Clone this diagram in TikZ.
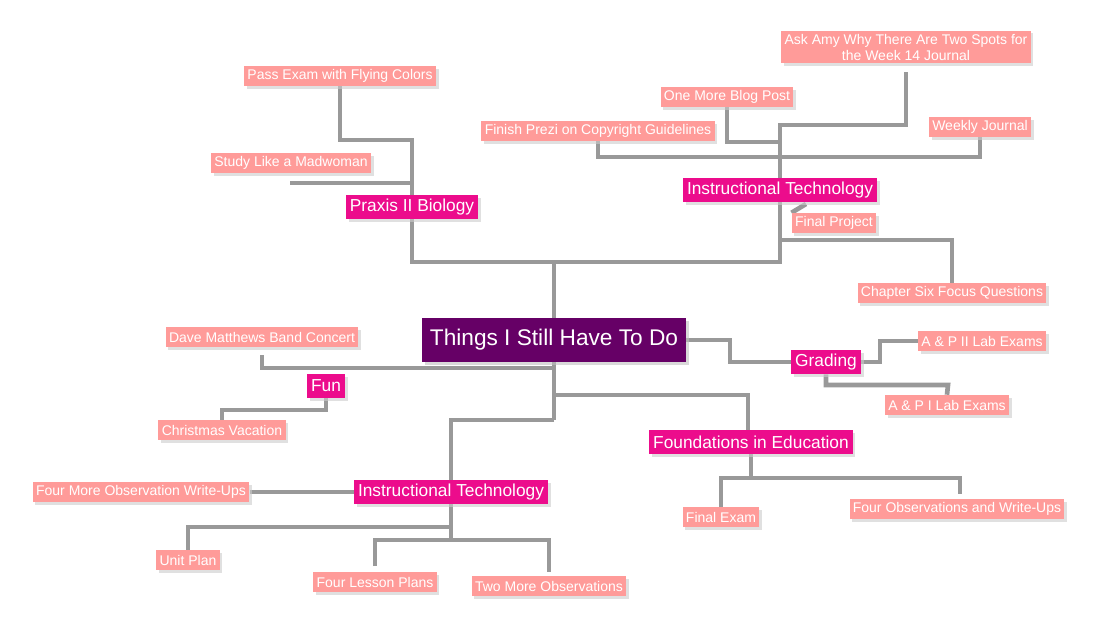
\documentclass[tikz,border=0pt]{standalone}
\usepackage{fontspec}
\setmainfont{Liberation Sans}
\usetikzlibrary{shadows,backgrounds}
\definecolor{leaf}{HTML}{FF9B99}
\definecolor{branch}{HTML}{EC0C8C}
\definecolor{root}{HTML}{660066}
\definecolor{wire}{HTML}{999999}
\tikzset{
 leafbox/.style={fill=leaf,text=white,font=\fontsize{10.5}{12}\selectfont,inner sep=2.5pt,minimum height=15pt,drop shadow={shadow xshift=2pt,shadow yshift=-2pt,fill=black!20,opacity=0.6}},
 branchbox/.style={fill=branch,text=white,font=\fontsize{13}{15}\selectfont,inner sep=3pt,minimum height=18pt,drop shadow={shadow xshift=2pt,shadow yshift=-2pt,fill=black!20,opacity=0.6}},
 rootbox/.style={fill=root,text=white,font=\fontsize{17}{20}\selectfont,inner sep=6pt,minimum height=33pt,drop shadow={shadow xshift=2pt,shadow yshift=-2pt,fill=black!25,opacity=0.6}},
 wirel/.style={draw=wire,line width=3.5pt}
}
\begin{document}
\begin{tikzpicture}[x=0.75pt,y=-0.75pt]
\useasboundingbox (0,0) rectangle (1101,626);
\coordinate (j1) at (554,262);
\coordinate (j2) at (554,368);
\coordinate (j3) at (554,395);
\coordinate (j4) at (554,420);
\node[rootbox] (root) at (554,340) {Things I Still Have To Do};
\node[branchbox] (praxis) at (412,207) {Praxis II Biology};
\node[leafbox] (pass) at (340,76) {Pass Exam with Flying Colors};
\node[leafbox] (study) at (291,163) {Study Like a Madwoman};
\node[branchbox] (itt) at (780,190) {Instructional Technology};
\node[leafbox,align=center] (amy) at (906,47) {Ask Amy Why There Are Two Spots for\\the Week 14 Journal};
\node[leafbox] (blog) at (727,97) {One More Blog Post};
\node[leafbox] (prezi) at (598,131) {Finish Prezi on Copyright Guidelines};
\node[leafbox] (weekly) at (980,127) {Weekly Journal};
\node[leafbox] (final) at (834,223) {Final Project};
\node[leafbox] (chap) at (952,293) {Chapter Six Focus Questions};
\node[branchbox] (grading) at (826,362) {Grading};
\node[leafbox] (ap2) at (982,341) {A \& P II Lab Exams};
\node[leafbox] (ap1) at (947,405) {A \& P I Lab Exams};
\node[branchbox] (fun) at (326,386) {Fun};
\node[leafbox] (dave) at (262,337) {Dave Matthews Band Concert};
\node[leafbox] (xmas) at (222,430) {Christmas Vacation};
\node[branchbox] (found) at (751,442) {Foundations in Education};
\node[leafbox] (fexam) at (721,517) {Final Exam};
\node[leafbox] (fobs) at (957,509) {Four Observations and Write-Ups};
\node[branchbox] (itb) at (451,492) {Instructional Technology};
\node[leafbox] (fmore) at (141,492) {Four More Observation Write-Ups};
\node[leafbox] (unit) at (188,560) {Unit Plan};
\node[leafbox] (lesson) at (375,582) {Four Lesson Plans};
\node[leafbox] (two) at (549,586) {Two More Observations};
\begin{scope}[on background layer]
\draw[wirel] (root.north) -- (j1) -| (praxis.south);
\draw[wirel] (j1) -- (780,262) -- (itt.south);
\draw[wirel] (itt.north) -- (780,125) -| (906,72);
\draw[wirel] (780,240) -| (chap.north);
\draw[wirel] (806,204) -- (final.north west);
\draw[wirel] (blog.south) |- (780,142);
\draw[wirel] (prezi.south) |- (980,157) -- (weekly.south);
\draw[wirel] (praxis.north) -- (412,140) -| (pass.south);
\draw[wirel] (290,183) -- (412,183);
\draw[wirel] (root.east) -- (730,340) |- (grading.west);
\draw[wirel] (grading.east) -- (880,362) |- (ap2.west);
\draw[wirel] (grading.south) |- (948,385) -- (ap1.north);
\draw[wirel] (root.south) -- (j4);
\draw[wirel] (j2) -- (262,368) -- (262,355);
\draw[wirel] (fun.south) |- (222,410) -- (xmas.north);
\draw[wirel] (j3) -| (748,430);
\draw[wirel] (j4) -| (itb.north);
\draw[wirel] (found.south) -- (751,478) -| (fexam.north);
\draw[wirel] (751,478) -| (960,494);
\draw[wirel] (fmore.east) -- (itb.west);
\draw[wirel] (itb.south) -- (451,540);
\draw[wirel] (451,527) -| (unit.north);
\draw[wirel] (375,566) |- (549,540) -- (549,572);
\end{scope}
\end{tikzpicture}
\end{document}
